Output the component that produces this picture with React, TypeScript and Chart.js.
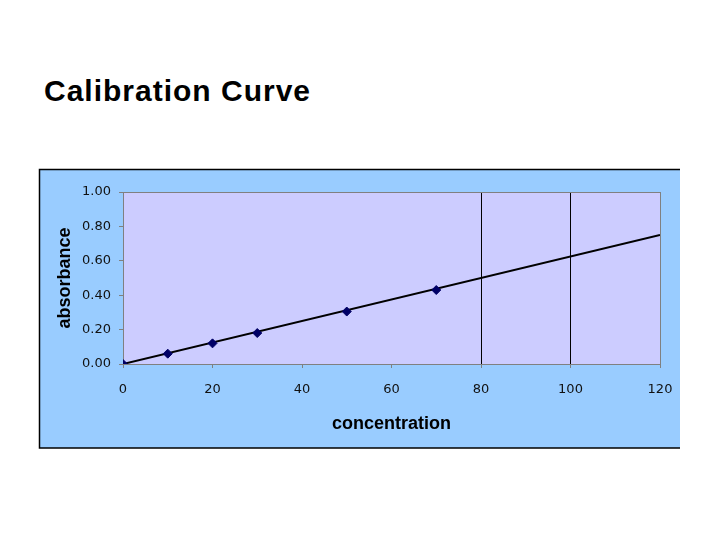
import React, { useEffect, useRef } from "react";
import { Chart, registerables } from "chart.js";

Chart.register(...registerables);

const TITLE = "Calibration Curve";
const X_TITLE = "concentration";
const Y_TITLE = "absorbance";

const concentrations = [0, 10, 20, 30, 50, 70];
const absorbances = [0, 0.06, 0.12, 0.18, 0.305, 0.43];

const trendX = [0, 120];
const trendY = [0, 0.75];

const gridLineValues = [80, 100];

const OUTER_BG = "#99CCFF";
const PLOT_BG = "#CCCCFF";
const MARKER = "#000066";

const backgroundPlugin = {
  id: "bgBoxes",
  beforeDraw(chart: any) {
    const ctx = chart.ctx;
    const a = chart.chartArea;
    ctx.save();
    ctx.fillStyle = OUTER_BG;
    ctx.fillRect(39, 169, 641, 279);
    ctx.strokeStyle = "#000";
    ctx.lineWidth = 1.5;
    ctx.beginPath();
    ctx.moveTo(680, 169.5);
    ctx.lineTo(39.5, 169.5);
    ctx.lineTo(39.5, 448);
    ctx.lineTo(680, 448);
    ctx.stroke();
    ctx.fillStyle = PLOT_BG;
    ctx.fillRect(a.left, a.top, a.right - a.left, a.bottom - a.top);
    ctx.restore();
  },
  beforeDatasetsDraw(chart: any) {
    const ctx = chart.ctx;
    const a = chart.chartArea;
    ctx.save();
    ctx.strokeStyle = "#808080";
    ctx.lineWidth = 1;
    ctx.strokeRect(Math.round(a.left) + 0.5, Math.round(a.top) + 0.5, Math.round(a.right - a.left), Math.round(a.bottom - a.top));
    ctx.restore();
  },
};

export default function App() {
  const canvasRef = useRef<HTMLCanvasElement | null>(null);

  useEffect(() => {
    if (!canvasRef.current) return;
    const chart = new Chart(canvasRef.current, {
      type: "scatter",
      data: {
        datasets: [
          {
            label: "data",
            data: concentrations.map((x, i) => ({ x, y: absorbances[i] })),
            backgroundColor: MARKER,
            borderColor: MARKER,
            pointStyle: "rectRot",
            pointRadius: 4.5,
            showLine: false,
            order: 0,
          },
          {
            label: "trend",
            type: "line",
            data: trendX.map((x, i) => ({ x, y: trendY[i] })),
            borderColor: "#000",
            borderWidth: 2,
            pointRadius: 0,
            fill: false,
            order: 1,
          } as any,
        ],
      },
      options: {
        responsive: false,
        animation: false,
        layout: { padding: { left: 40, top: 192, right: 60, bottom: 100 } },
        plugins: {
          legend: { display: false },
          tooltip: { enabled: false },
          title: { display: false },
        },
        scales: {
          x: {
            type: "linear",
            min: 0,
            max: 120,
            afterFit(scale: any) {
              scale.height = 540 - 364 - 100;
            },
            ticks: {
              stepSize: 20,
              color: "#111",
              padding: 14,
              font: { family: "DejaVu Sans", size: 13 },
            },
            grid: {
              color: (ctx: any) =>
                ctx.tick && gridLineValues.includes(ctx.tick.value) ? "#000" : "rgba(0,0,0,0)",
              tickColor: "#808080",
              tickLength: 4,
              lineWidth: 1,
            },
            border: { display: true, color: "#808080" },
            title: {
              display: true,
              text: X_TITLE,
              color: "#000",
              font: { family: "Liberation Sans", size: 18, weight: "bold" },
              padding: { top: 0, bottom: 5 },
            },
          },
          y: {
            type: "linear",
            min: 0,
            max: 1,
            afterFit(scale: any) {
              scale.width = 83;
            },
            ticks: {
              stepSize: 0.2,
              color: "#111",
              padding: 8,
              font: { family: "DejaVu Sans", size: 13 },
              callback: (v: any) => Number(v).toFixed(2),
            },
            grid: {
              drawOnChartArea: false,
              tickColor: "#808080",
              tickLength: 4,
            },
            border: { display: true, color: "#808080" },
            title: {
              display: true,
              text: Y_TITLE,
              color: "#000",
              font: { family: "Liberation Sans", size: 18, weight: "bold" },
              padding: { top: 14, bottom: 0 },
            },
          },
        },
      },
      plugins: [backgroundPlugin],
    });
    return () => chart.destroy();
  }, []);

  return (
    <div style={{ position: "absolute", left: 0, top: 0, width: 720, height: 540, background: "#fff" }}>
      <div
        style={{
          position: "absolute",
          left: 44,
          top: 76,
          fontFamily: "'Liberation Sans', Arial, sans-serif",
          fontWeight: "bold",
          fontSize: 30,
          lineHeight: "30px",
          letterSpacing: "1px",
          color: "#000",
          whiteSpace: "nowrap",
        }}
      >
        {TITLE}
      </div>
      <canvas ref={canvasRef} width={720} height={540} style={{ position: "absolute", left: 0, top: 0, width: 720, height: 540 }} />
    </div>
  );
}
